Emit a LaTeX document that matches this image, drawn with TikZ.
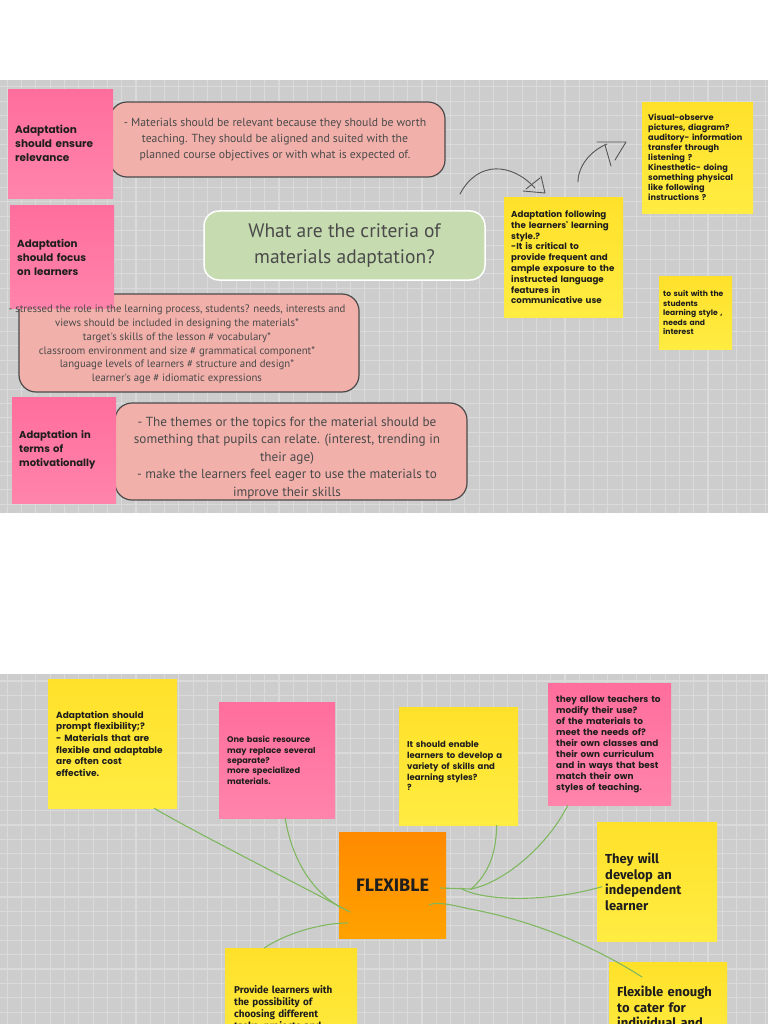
\documentclass[tikz,border=0pt]{standalone}
\usepackage{fontspec}
\newfontfamily\notefont{Poppins}
\newfontfamily\boxfont{PT Sans}
\newfontfamily\bignotefont{Fira Sans}
\usetikzlibrary{positioning}
\definecolor{panelGray}{HTML}{CDCDCD}
\definecolor{gridLine}{HTML}{DADADA}
\definecolor{pinkTop}{HTML}{FF6E9D}
\definecolor{pinkBot}{HTML}{FF84AB}
\definecolor{yellowTop}{HTML}{FFE12A}
\definecolor{yellowBot}{HTML}{FFEC42}
\definecolor{flexTop}{HTML}{FF8A00}
\definecolor{flexBot}{HTML}{FFA200}
\definecolor{boxFill}{HTML}{F2B0AB}
\definecolor{boxLine}{HTML}{4A4A4A}
\definecolor{boxText}{HTML}{4A4A4A}
\definecolor{questFill}{HTML}{C6DCB0}
\definecolor{noteText}{HTML}{1E1E1E}
\definecolor{handGray}{HTML}{555555}
\definecolor{vine}{HTML}{80B860}
\tikzset{gridline/.style={draw=gridLine, line width=1.1pt}}
\tikzset{pinknote/.style 2 args={rectangle,draw=none,top color=pinkTop,bottom color=pinkBot,
anchor=north west,inner xsep=7pt,inner ysep=3pt,align=left,text=noteText,
font=\notefont\bfseries\fontsize{#1}{#2}\selectfont}}
\tikzset{yellownote/.style 2 args={rectangle,draw=none,top color=yellowTop,bottom color=yellowBot,
anchor=north west,inner xsep=7pt,inner ysep=3pt,align=left,text=noteText,
font=\notefont\bfseries\fontsize{#1}{#2}\selectfont}}
\tikzset{bignote/.style 2 args={yellownote={#1}{#2},font=\bignotefont\bfseries\fontsize{#1}{#2}\selectfont}}
\tikzset{roundbox/.style={rectangle,rounded corners=17pt,draw=boxLine,line width=1.2pt,fill=boxFill}}
\tikzset{boxtext/.style={align=center,text=boxText,inner sep=0pt}}
\tikzset{questbox/.style={rectangle,rounded corners=15pt,draw=white,line width=1.5pt,fill=questFill,
align=center,text=boxText,font=\boxfont\fontsize{19.5}{26}\selectfont}}
\tikzset{flexbox/.style={rectangle,draw=none,top color=flexTop,bottom color=flexBot,
text=noteText,font=\bignotefont\bfseries\fontsize{18}{20}\selectfont}}
\tikzset{handline/.style={draw=handGray,line width=0.9pt,line cap=round,line join=round}}
\tikzset{greenline/.style={draw=vine,line width=1.1pt,line cap=round}}

\begin{document}
\begin{tikzpicture}[x=1pt,y=-1pt]
    \useasboundingbox (0,0) rectangle (768,1024);
    \fill[white] (0,0) rectangle (768,1024);

    % upper board
    \begin{scope}
        \clip (0,80) rectangle (768,513);
        \fill[panelGray] (0,80) rectangle (768,513);
        \foreach \gx in {7.3,21.6,...,768} \draw[gridline] (\gx,80) -- (\gx,513);
        \foreach \gy in {86.7,101.1,...,513} \draw[gridline] (0,\gy) -- (768,\gy);

        \node[roundbox, minimum width=335pt, minimum height=75pt] (boxRel) at (277.5,139.5) {};
        \node[roundbox, minimum width=340pt, minimum height=98pt] (boxFoc) at (189,343) {};
        \node[roundbox, minimum width=352pt, minimum height=97pt] (boxMot) at (291,451.5) {};
        \node[questbox, minimum width=281pt, minimum height=69pt] (boxQuest) at (344.5,245.5)
            {What are the criteria of\\materials adaptation?};

        \node[pinknote={10.5}{14}, text width=91pt, minimum height=109pt] (noteRel) at (8,89)
            {Adaptation\\should ensure\\relevance};
        \node[pinknote={10.3}{14}, text width=90pt, minimum height=103pt] (noteFoc)
            [below right=7pt and 2pt of noteRel.south west]
            {Adaptation\\should focus\\on learners};
        \node[pinknote={10}{14}, text width=90pt, minimum height=106pt] (noteMot) at (12,397)
            {Adaptation in\\terms of\\motivationally};

        \node[boxtext, font=\boxfont\fontsize{11.7}{16}\selectfont] (boxReltext) at (275,140)
            {- Materials should be relevant because they should be worth\\
             teaching. They should be aligned and suited with the\\
             planned course objectives or with what is expected of.};
        \node[boxtext, font=\boxfont\fontsize{10.8}{13.8}\selectfont] (boxFoctext) at (177,344.5)
            {- stressed the role in the learning process, students? needs, interests and\\
             views should be included in designing the materials*\\
             target's skills of the lesson \# vocabulary*\\
             classroom environment and size \# grammatical component*\\
             language levels of learners \# structure and design*\\
             learner's age \# idiomatic expressions};
        \node[boxtext, font=\boxfont\fontsize{13.2}{17.5}\selectfont] (boxMottext) at (287,458)
            {- The themes or the topics for the material should be\\
             something that pupils can relate. (interest, trending in\\
             their age)\\
             - make the learners feel eager to use the materials to\\
             improve their skills};

        \node[yellownote={8.7}{10.8}, text width=105pt, minimum height=120pt] (noteStyle) at (504,197)
            {Adaptation following\\the learners' learning\\style.?\\-It is critical to\\provide frequent and\\ample exposure to the\\instructed language\\features in\\communicative use};
        \node[yellownote={8.2}{10}, inner xsep=6pt, text width=99pt, minimum height=111pt] (noteVis) at (642,102)
            {Visual-observe\\pictures, diagram?\\auditory- information\\transfer through\\listening ?\\Kinesthetic- doing\\something physical\\like following\\instructions ?};
        \node[yellownote={7.6}{9.5}, inner xsep=4pt, text width=65pt, minimum height=73pt] (noteSuit) at (659,276)
            {to suit with the\\students\\learning style ,\\needs and\\interest};

        % hand drawn arrows
        \coordinate (swoopA) at (460,194);
        \coordinate (swoopB) at (578,182);
        \draw[handline] (swoopA) .. controls (478,160) and (512,163) .. (535,188);
        \draw[handline] (523,191) -- (545,193) -- (541,176) (526,189) -- (540,178);
        \draw[handline] (swoopB) .. controls (578,165) and (592,150) .. (607,144);
        \draw[handline] (597,142) -- (626,142) -- (615,160) (605,145) -- (611,166);
    \end{scope}

    % lower board
    \begin{scope}
        \clip (0,674) rectangle (768,1024);
        \fill[panelGray] (0,674) rectangle (768,1024);
        \foreach \gx in {7.3,21.6,...,768} \draw[gridline] (\gx,674) -- (\gx,1024);
        \foreach \gy in {681,695.4,...,1024} \draw[gridline] (0,\gy) -- (768,\gy);

        \node[flexbox, minimum width=107pt, minimum height=106pt] (boxFlex) at (392.5,885) {FLEXIBLE};

        \node[yellownote={9}{11.6}, inner xsep=8pt, text width=113pt, minimum height=129pt] (notePrompt) at (48,679)
            {Adaptation should\\prompt flexibility;?\\- Materials that are\\flexible and adaptable\\are often cost\\effective.};
        \node[pinknote={8.2}{10.4}, inner xsep=8pt, text width=100pt, minimum height=116pt] (noteResource) at (219,702)
            {One basic resource\\may replace several\\separate?\\more specialized\\materials.};
        \node[yellownote={8.5}{10.8}, inner xsep=8pt, text width=103pt, minimum height=118pt] (noteEnable) at (399,707)
            {It should enable\\learners to develop a\\variety of skills and\\learning styles?\\?};
        \node[pinknote={8.9}{11}, inner xsep=8pt, text width=107pt, minimum height=122pt] (noteAllow) at (548,683)
            {they allow teachers to\\modify their use?\\of the materials to\\meet the needs of?\\their own classes and\\their own curriculum\\and in ways that best\\match their own\\styles of teaching.};
        \node[bignote={13}{15.5}, inner xsep=8pt, text width=104pt, minimum height=119pt] (noteIndep) at (597,822)
            {They will\\develop an\\independent\\learner};
        \node[bignote={9.9}{12}, inner xsep=9pt, inner ysep=37pt, text width=114pt] (noteProvide) at (225,948)
            {Provide learners with\\the possibility of\\choosing different\\tasks, projects and};
        \node[bignote={13}{15.5}, inner xsep=8pt, inner ysep=24pt, text width=102pt] (noteCater) at (609,962)
            {Flexible enough\\to cater for\\individual and};

        % green links
        \coordinate (flexLeftA) at ([xshift=11pt,yshift=-27pt]boxFlex.west);
        \coordinate (flexLeftB) at ([xshift=3pt,yshift=-23pt]boxFlex.west);
        \coordinate (flexLeftC) at ([xshift=9pt,yshift=-38pt]boxFlex.west);
        \coordinate (flexRightA) at ([xshift=-6pt,yshift=-3pt]boxFlex.east);
        \coordinate (flexRightB) at ([xshift=-17pt,yshift=-20pt]boxFlex.east);
        \coordinate (flexRightC) at ([xshift=14pt,yshift=-3pt]boxFlex.east);
        \coordinate (knot) at ([xshift=25pt,yshift=-4pt]boxFlex.east);

        \draw[greenline] ([xshift=-23pt]notePrompt.south east) .. controls (200,835) and (300,885) .. (flexLeftA);
        \draw[greenline] ([xshift=8pt]noteResource.south) .. controls (290,848) and (305,888) .. (flexLeftB);
        \draw[greenline] ([xshift=-27pt]noteProvide.north) .. controls (285,934) and (320,923) .. (flexLeftC);
        \draw[greenline] ([xshift=38pt]noteEnable.south) .. controls (496,855) and (488,874) .. (knot);
        \draw[greenline] ([xshift=-42pt]noteAllow.south) .. controls (548,845) and (505,882) .. (knot);
        \draw[greenline] ([xshift=5pt,yshift=-5pt]noteIndep.west) .. controls (545,903) and (482,901) .. (flexRightC);
        \draw[greenline] (flexRightA) -- (knot);
        \draw[greenline] ([xshift=33pt,yshift=-15pt]noteCater.north west) .. controls (600,950) and (540,922) .. (470,909)
            .. controls (452,905) and (436,901) .. (flexRightB);
    \end{scope}

\end{tikzpicture}
\end{document}
